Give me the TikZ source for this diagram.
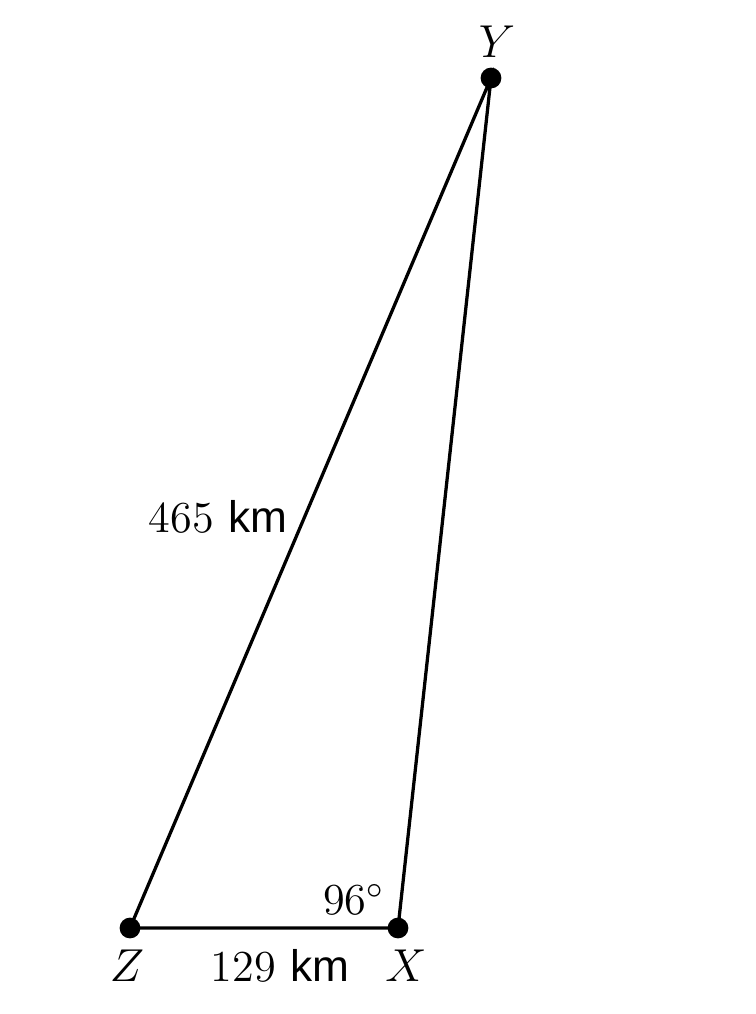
\documentclass[tikz,border=0pt]{standalone}
\usepackage{fontspec}
\newfontfamily\kmfont{Liberation Sans}
\begin{document}
\begin{tikzpicture}[x=0.26pt,y=-0.26pt,
  dot/.style={circle,fill=black,inner sep=0pt,minimum size=5.4pt},
  edge/.style={line width=0.85pt},
  lbl/.style={inner sep=0pt,font=\fontsize{11.5}{14}\selectfont}]
\useasboundingbox (0,0) rectangle (756,1014);
\node[dot] (Y) at (491,78) {};
\node[dot] (Z) at (130,928) {};
\node[dot] (X) at (398,928) {};
\draw[edge] (Z.center) -- (Y.center) -- (X.center) -- (Z.center);
\node[lbl] (lY) at (497,42) {$Y$};
\node[lbl] (lZ) at (127,966) {$Z$};
\node[lbl] (lX) at (406,966) {$X$};
\node[lbl] (l465) at (218,517) {465 {\kmfont km}};
\node[lbl] (l129) at (280,966) {129 {\kmfont km}};
\node[lbl] (lang) at (354,900) {96$^\circ$};
\end{tikzpicture}
\end{document}
